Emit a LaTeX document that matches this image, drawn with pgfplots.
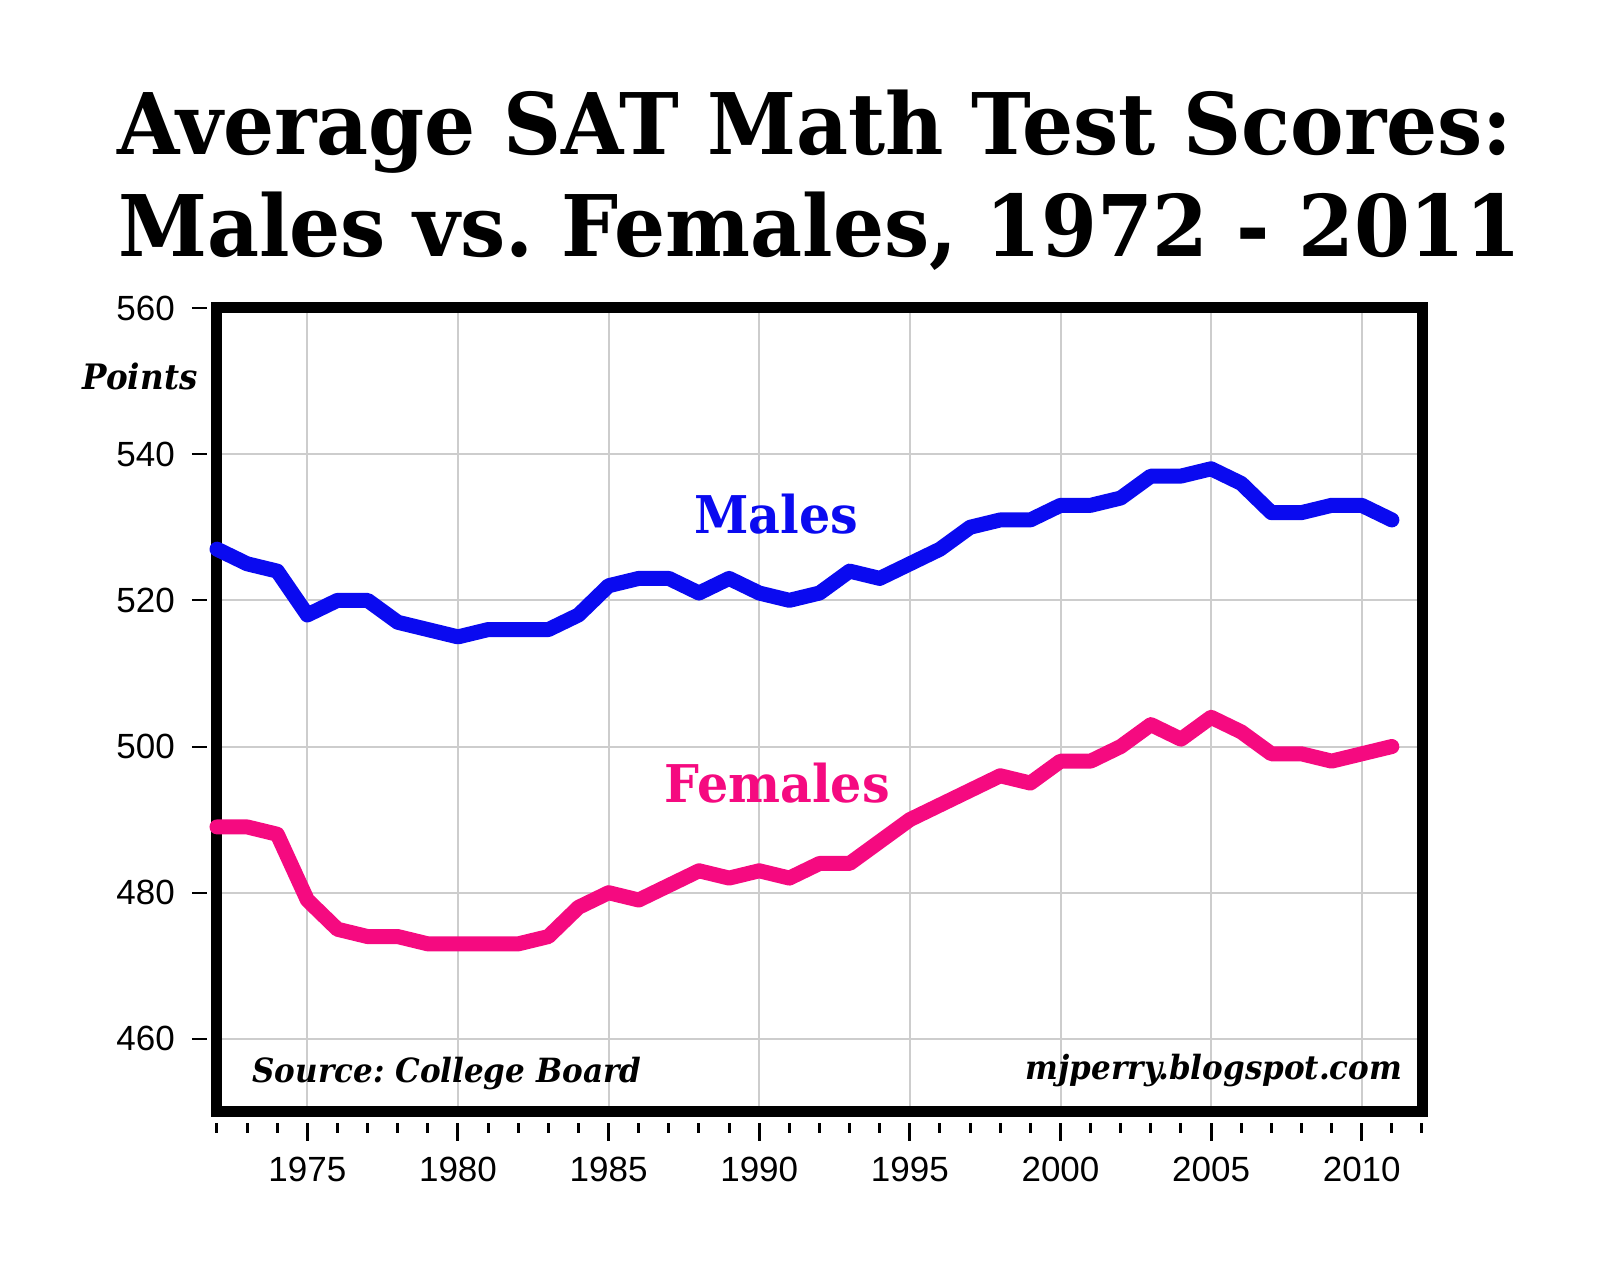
\documentclass[border=0pt]{standalone}
\usepackage{fontspec}
\setmainfont{Liberation Sans}
\newfontfamily\titlefont{DejaVu Serif}[FakeStretch=0.945]
\newfontfamily\notefont{DejaVu Serif}[FakeStretch=0.93]
\usepackage{pgfplots}
\pgfplotsset{compat=1.18}
\definecolor{MaleBlue}{RGB}{10,10,240}
\definecolor{FemalePink}{RGB}{245,10,128}
\definecolor{GridGray}{RGB}{205,205,205}
\frenchspacing

\begin{document}
\begin{tikzpicture}
\useasboundingbox (-65.1pt,-45.3pt) rectangle (414.9pt,333.6pt);
\begin{axis}[
    at={(0,0)}, anchor=south west,
    scale only axis,
    width=361.5pt, height=241.2pt,
    xmin=1972, xmax=2012,
    ymin=450, ymax=560,
    xtick={1975,1980,...,2010},
    minor xtick={1972,...,2012},
    ytick={460,480,...,560},
    xtick pos=bottom, ytick pos=left,
    grid=major,
    major grid style={GridGray, line width=0.6pt},
    axis line style={line width=3.3pt},
    tick align=outside,
    tick style={black, line width=0.9pt},
    major tick length=5.4pt,
    minor tick length=3pt,
    x tick style={yshift=-3.3pt},
    y tick style={xshift=-3pt, line width=0.6pt},
    ytick style={/pgfplots/major tick length=4.5pt},
    /pgf/number format/assume math mode=true,
    /pgf/number format/set thousands separator={},
    tick label style={font=\fontsize{10.5}{12}\selectfont},
    xticklabel style={yshift=-4.6pt},
    yticklabel style={xshift=-3.7pt},
    clip=false,
]
\addplot[MaleBlue, line width=4.5pt, line join=round, line cap=round] coordinates {
(1972,527) (1973,525) (1974,524) (1975,518) (1976,520) (1977,520) (1978,517)
(1979,516) (1980,515) (1981,516) (1982,516) (1983,516) (1984,518) (1985,522)
(1986,523) (1987,523) (1988,521) (1989,523) (1990,521) (1991,520) (1992,521)
(1993,524) (1994,523) (1995,525) (1996,527) (1997,530) (1998,531) (1999,531)
(2000,533) (2001,533) (2002,534) (2003,537) (2004,537) (2005,538) (2006,536)
(2007,532) (2008,532) (2009,533) (2010,533) (2011,531)
};
\addplot[FemalePink, line width=4.5pt, line join=round, line cap=round] coordinates {
(1972,489) (1973,489) (1974,488) (1975,479) (1976,475) (1977,474) (1978,474)
(1979,473) (1980,473) (1981,473) (1982,473) (1983,474) (1984,478) (1985,480)
(1986,479) (1987,481) (1988,483) (1989,482) (1990,483) (1991,482) (1992,484)
(1993,484) (1994,487) (1995,490) (1996,492) (1997,494) (1998,496) (1999,495)
(2000,498) (2001,498) (2002,500) (2003,503) (2004,501) (2005,504) (2006,502)
(2007,499) (2008,499) (2009,498) (2010,499) (2011,500)
};
\node[anchor=base, text=MaleBlue, font=\titlefont\bfseries\fontsize{15.6}{18}\selectfont]
  at (axis cs:1990.56,529.2) {Males};
\node[anchor=base, text=FemalePink, font=\titlefont\bfseries\fontsize{15.6}{18}\selectfont]
  at (axis cs:1990.6,492.3) {Females};
\node[anchor=base west, inner sep=0pt, font=\notefont\bfseries\itshape\fontsize{10}{12}\selectfont]
  at (axis cs:1973.16,454.1) {Source: College Board};
\node[anchor=base east, inner sep=0pt, font=\notefont\bfseries\itshape\fontsize{10}{12}\selectfont]
  at (axis cs:2011.37,454.4) {mjperry.blogspot.com};
\node[anchor=base east, inner sep=0pt, font=\notefont\bfseries\itshape\fontsize{10.5}{12}\selectfont]
  at (axis cs:1971.37,548.8) {Points};
\end{axis}
\node[anchor=base, inner sep=0pt, font=\titlefont\bfseries\fontsize{25.5}{30}\selectfont]
  at (179.4pt,287.1pt) {Average SAT Math Test Scores:};
\node[anchor=base, inner sep=0pt, font=\titlefont\bfseries\fontsize{25.5}{30}\selectfont]
  at (180.9pt,256.5pt) {Males vs. Females, 1972 - 2011};
\end{tikzpicture}
\end{document}
